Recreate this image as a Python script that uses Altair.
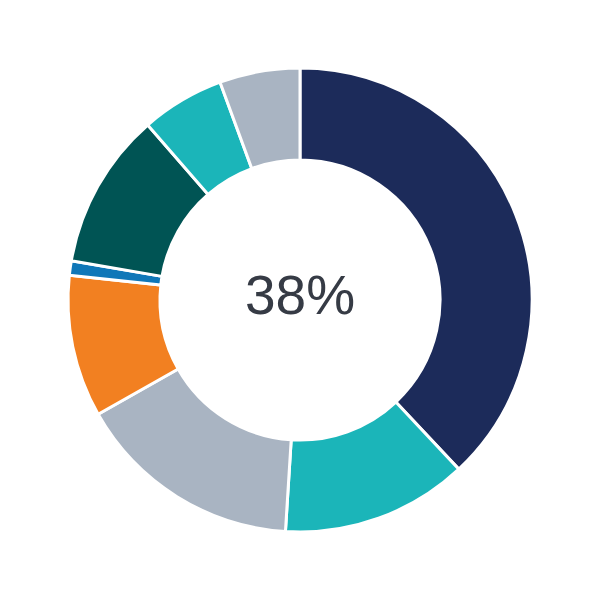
import altair as alt
import pandas as pd

categories = ["A", "B", "C", "D", "E", "F", "G", "H"]
values = [38, 13, 15.8, 9.9, 1.0, 10.9, 5.8, 5.6]
colors = ["#1c2b5a", "#1bb5b9", "#a9b4c2", "#f28021", "#0f77b8", "#005454", "#1bb5b9", "#a9b4c2"]
center_label = "38%"

df = pd.DataFrame({"cat": categories, "val": values, "order": list(range(len(categories)))})

arcs = alt.Chart(df).mark_arc(innerRadius=140, outerRadius=232, stroke="white", strokeWidth=3).encode(
    theta=alt.Theta("val:Q", stack=True),
    order=alt.Order("order:Q"),
    color=alt.Color("cat:N", scale=alt.Scale(domain=categories, range=colors), legend=None),
)

text = alt.Chart(pd.DataFrame({"t": [center_label]})).mark_text(
    fontSize=55, font="Liberation Sans", color="#363b45", baseline="middle", align="center", dy=-3
).encode(text="t:N")

chart = (arcs + text).properties(width=584, height=584, padding=0, autosize="none").configure_view(stroke=None)
chart.save("out.html", embed_options={"renderer": "svg", "actions": False})
